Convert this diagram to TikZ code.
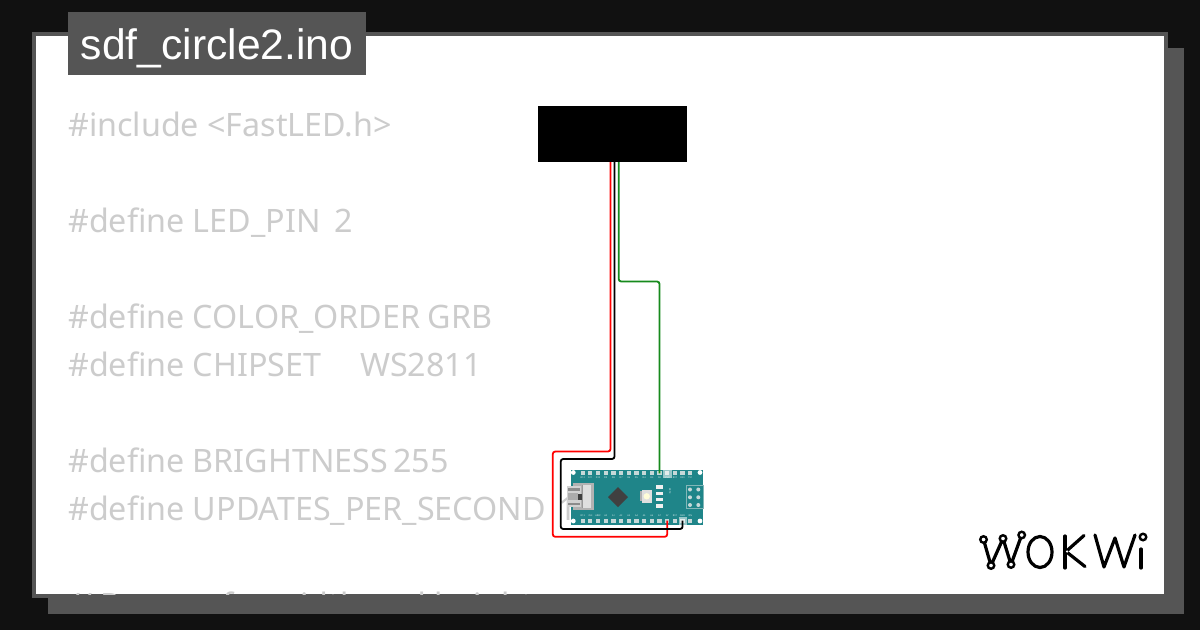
\documentclass[tikz,border=0pt]{standalone}
\usepackage{fontspec}
\setmainfont{Noto Sans}
\newfontfamily\titlefont{Liberation Sans}
\definecolor{bgdark}{HTML}{111111}
\definecolor{panelgrey}{HTML}{555555}
\definecolor{codegrey}{HTML}{CCCCCC}
\definecolor{boardteal}{HTML}{1F8589}
\definecolor{wiregreen}{HTML}{168A1C}
\definecolor{holegrey}{HTML}{C6D8D8}
\tikzset{
  x=1pt,y=-1pt,
  code/.style={anchor=base west,inner sep=0pt,text=codegrey,font=\fontsize{32.25}{32}\selectfont},
  wire/.style={line width=1.8pt,rounded corners=2.5pt},
  pinhole/.style={fill=holegrey,draw=none,minimum size=4.2pt,inner sep=0pt},
  pinlabel/.style={text=white!85!boardteal,inner sep=0pt,font=\fontsize{2.3}{2.3}\selectfont},
  logostroke/.style={line width=3.2pt,line cap=round,line join=round,draw=black},
  logodot/.style={circle,draw=black,line width=2.4pt,fill=white,minimum size=6.5pt,inner sep=0pt},
}
\begin{document}
\begin{tikzpicture}
\useasboundingbox (0,0) rectangle (1200,630);
\fill[bgdark] (0,0) rectangle (1200,630);
% shadow and panel
\fill[panelgrey] (48,48) rectangle (1184,614);
\fill[panelgrey] (32,32) rectangle (1168,598);
\fill[white] (36,36) rectangle (1164,594);
% code
\begin{scope}
\clip (36,36) rectangle (1164,594);
\node[code] (l1) at (68,136) {\#include <FastLED.h>};
\node[code] (l2) at (68,232) {\#define LED\_PIN~~\hspace{-2.5pt}2};
\node[code] (l3) at (68,328) {\#define COLOR\_ORDER \hspace{-1pt}GRB};
\node[code] (l4) at (68,376) {\#define CHIPSET~~~~~\hspace{-3pt}WS2811};
\node[code] (l5) at (68,472) {\#define BRIGHTNESS \hspace{-3pt}255};
\node[code] (l6) at (68,520) {\#define UPDATES\_PER\_SECOND \hspace{4pt}100};
\node[code] (l7) at (68,616) {// Params for width and height};
\end{scope}
% title
\node[fill=panelgrey,anchor=north west,inner sep=0pt,minimum width=298pt,minimum height=63pt] (title) at (68,12) {};
\node[text=white,anchor=base,inner sep=0pt,font=\titlefont\fontsize{42.6}{42}\selectfont] (titletext) at (217,59) {sdf\_circle2.ino};
% LED panel
\node[fill=black,anchor=north west,inner sep=0pt,minimum width=149pt,minimum height=56pt] (panel) at (538,106) {};
% board
\node[fill=boardteal,anchor=north west,inner sep=0pt,minimum width=132pt,minimum height=55pt] (board) at (570.7,470) {};
\foreach \x/\y in {573.3/472.5,700/472.5,573.3/521,700/521}
  \fill[white] (\x,\y) circle (2.4pt);
\foreach \i/\t in {0/D12,1/D11,2/D10,3/D9,4/D8,5/D7,6/D6,7/D5,8/D4,9/D3,10/D2,11/GND,12/RST,13/RX0,14/TX1}{
  \pgfmathsetmacro\px{582.7+7.68*\i}
  \node[pinhole] (top\i) at (\px,473.3) {};
  \node[pinlabel] at (\px,478) {\t};
}
\foreach \i/\t in {0/D13,1/3V3,2/AREF,3/A0,4/A1,5/A2,6/A3,7/A4,8/A5,9/A6,10/A7,11/5V,12/RST,13/GND,14/VIN}{
  \pgfmathsetmacro\px{582.7+7.68*\i}
  \node[pinhole] (bot\i) at (\px,520.7) {};
  \node[pinlabel] at (\px,516) {\t};
}
\fill[white,opacity=.55] (663,469) rectangle (671.5,478);
\fill[white,opacity=.55] (678.5,516.5) rectangle (687,525);
% USB connector
\fill[gray!60] (573,482.7) rectangle (593.5,510);
\fill[gray!35] (566.7,486) rectangle (581,507);
\fill[gray!25] (583,485) rectangle (591,508);
\fill[gray!90] (568,488) rectangle (580,490.5);
\fill[gray!90] (568,502.5) rectangle (580,505);
\fill[gray!65] (568,493) rectangle (578,500);
\fill[black!75] (578,494) rectangle (582,499.5);
\fill[gray!80] (581.5,485) rectangle (582.5,508);
% chip
\fill[black!75] (618,487) -- (628,497) -- (618,507) -- (608,497) -- cycle;
% button
\fill[gray!60] (639.5,491) rectangle (642,501);
\fill[gray!25] (641.7,490) rectangle (651.7,502.7);
\fill[yellow!15] (646.7,496.3) circle (3.2pt);
% LEDs
\foreach \y in {486.7,493.3,499.3,505.7}
  \fill[white!88!gray] (656,\y-1.8) rectangle (662.5,\y+1.8);
\node[pinlabel,rotate=-90] (ledtext) at (670,491) {RX TX};
% ICSP
\draw[holegrey!60!boardteal,line width=.5pt] (686,485) rectangle (703,508);
\foreach \x in {690,698.3}\foreach \y in {489.5,497.3,505}
  \fill[holegrey] (\x,\y) circle (2pt);
% wires
\coordinate (rA) at (610.5,162);
\coordinate (kA) at (614.5,162);
\coordinate (gA) at (618.7,162);
\draw[wire,draw=red] (rA) -- (610.5,451.5) -- (552.8,451.5) -- (552.8,536.8) -- (667.2,536.8) -- (bot11.center);
\draw[wire,draw=black] (kA) -- (614.5,459) -- (560.7,459) -- (560.7,529) -- (682.6,529) -- (bot13.center);
\draw[wire,draw=wiregreen] (gA) -- (618.7,281.5) -- (659.5,281.5) -- (top10.center);
% logo
\draw[logostroke] (983.5,539.5) -- (991,565.5) -- (1003,538.5) -- (1011,564.5) -- (1021.7,535);
\node[logodot] (w1) at (983.5,539.5) {};
\node[logodot] (w2) at (1003,538.5) {};
\node[logodot] (w3) at (1021.7,535) {};
\node[logodot] (w4) at (991,565.5) {};
\node[logodot] (w5) at (1011,564.5) {};
\draw[logostroke] (1040,552) ellipse [x radius=12pt,y radius=15.5pt];
\draw[logostroke] (1065,536) -- (1065,568);
\draw[logostroke] (1084,535.5) -- (1066,551.5) -- (1085,566.5);
\node[circle,fill=white,minimum size=2.5pt,inner sep=0pt] (kdot) at (1067,551.5) {};
\draw[logostroke] (1095,535) -- (1104,567) -- (1115,538) -- (1124,567) -- (1135,535);
\draw[logostroke] (1141,549) -- (1141,568);
\node[logodot] (idot) at (1143,537) {};
\end{tikzpicture}
\end{document}
